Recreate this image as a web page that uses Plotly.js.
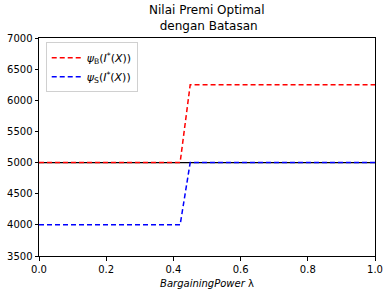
<!DOCTYPE html>
<html>
<head>
<meta charset="utf-8">
<script src="https://cdn.plot.ly/plotly-3.0.1.min.js"></script>
<style>html,body{margin:0;padding:0;background:#fff;}#chart{width:389px;height:297px;}</style>
</head>
<body>
<div id="chart"></div>
<script>
var lambdaX = [0, 0.42, 0.45, 1.0];
var psiB = [5000, 5000, 6250, 6250];
var psiS = [4000, 4000, 5000, 5000];
var refX = [0, 1];
var refY = [5000, 5000];
var xTicks = [0, 0.2, 0.4, 0.6, 0.8, 1.0];
var yTicks = [3500, 4000, 4500, 5000, 5500, 6000, 6500, 7000];
var titleText = 'Nilai Premi Optimal<br> dengan Batasan';

var font = 'DejaVu Sans, sans-serif';
var traces = [
  {x: refX, y: refY, mode: 'lines', line: {color: 'black', width: 1.2}, showlegend: false, hoverinfo: 'skip'},
  {x: lambdaX, y: psiB, mode: 'lines', name: '<i>ψ</i><sub>B</sub>(<i>I</i><sup>*</sup>(<i>X</i>))',
   line: {color: 'red', width: 1.5, dash: '5px,3px'}},
  {x: lambdaX, y: psiS, mode: 'lines', name: '<i>ψ</i><sub>S</sub>(<i>I</i><sup>*</sup>(<i>X</i>))',
   line: {color: 'blue', width: 1.5, dash: '5px,3px'}}
];
var layout = {
  width: 389, height: 297,
  margin: {l: 39, r: 14, t: 38, b: 41},
  paper_bgcolor: 'white', plot_bgcolor: 'white',
  font: {family: font, size: 10, color: 'black'},
  annotations: [{text: titleText, xref: 'paper', yref: 'paper', x: 0.5, y: 1, xanchor: 'center', yanchor: 'bottom',
                 yshift: 3, showarrow: false, align: 'center', font: {family: font, size: 12, color: 'black'}}],
  xaxis: {range: [0, 1], tickvals: xTicks, ticktext: xTicks.map(function(v){return v.toFixed(1);}),
          ticks: 'outside', ticklen: 3.5, tickcolor: 'black', showgrid: false, zeroline: false,
          showline: true, linecolor: 'black', linewidth: 1, mirror: true,
          title: {text: '<i>BargainingPower</i> λ', font: {family: font, size: 10}, standoff: 6}},
  yaxis: {range: [3500, 7000], tickvals: yTicks, ticktext: yTicks.map(String),
          ticks: 'outside', ticklen: 3.5, tickcolor: 'black', showgrid: false, zeroline: false,
          showline: true, linecolor: 'black', linewidth: 1, mirror: true},
  legend: {x: 0.02, y: 0.98, xanchor: 'left', yanchor: 'top', bgcolor: 'white',
           bordercolor: '#d0d0d0', borderwidth: 1, font: {family: font, size: 11},
           itemwidth: 30, tracegroupgap: 4},
  showlegend: true
};
Plotly.newPlot('chart', traces, layout, {displayModeBar: false, staticPlot: true});
</script>
</body>
</html>
